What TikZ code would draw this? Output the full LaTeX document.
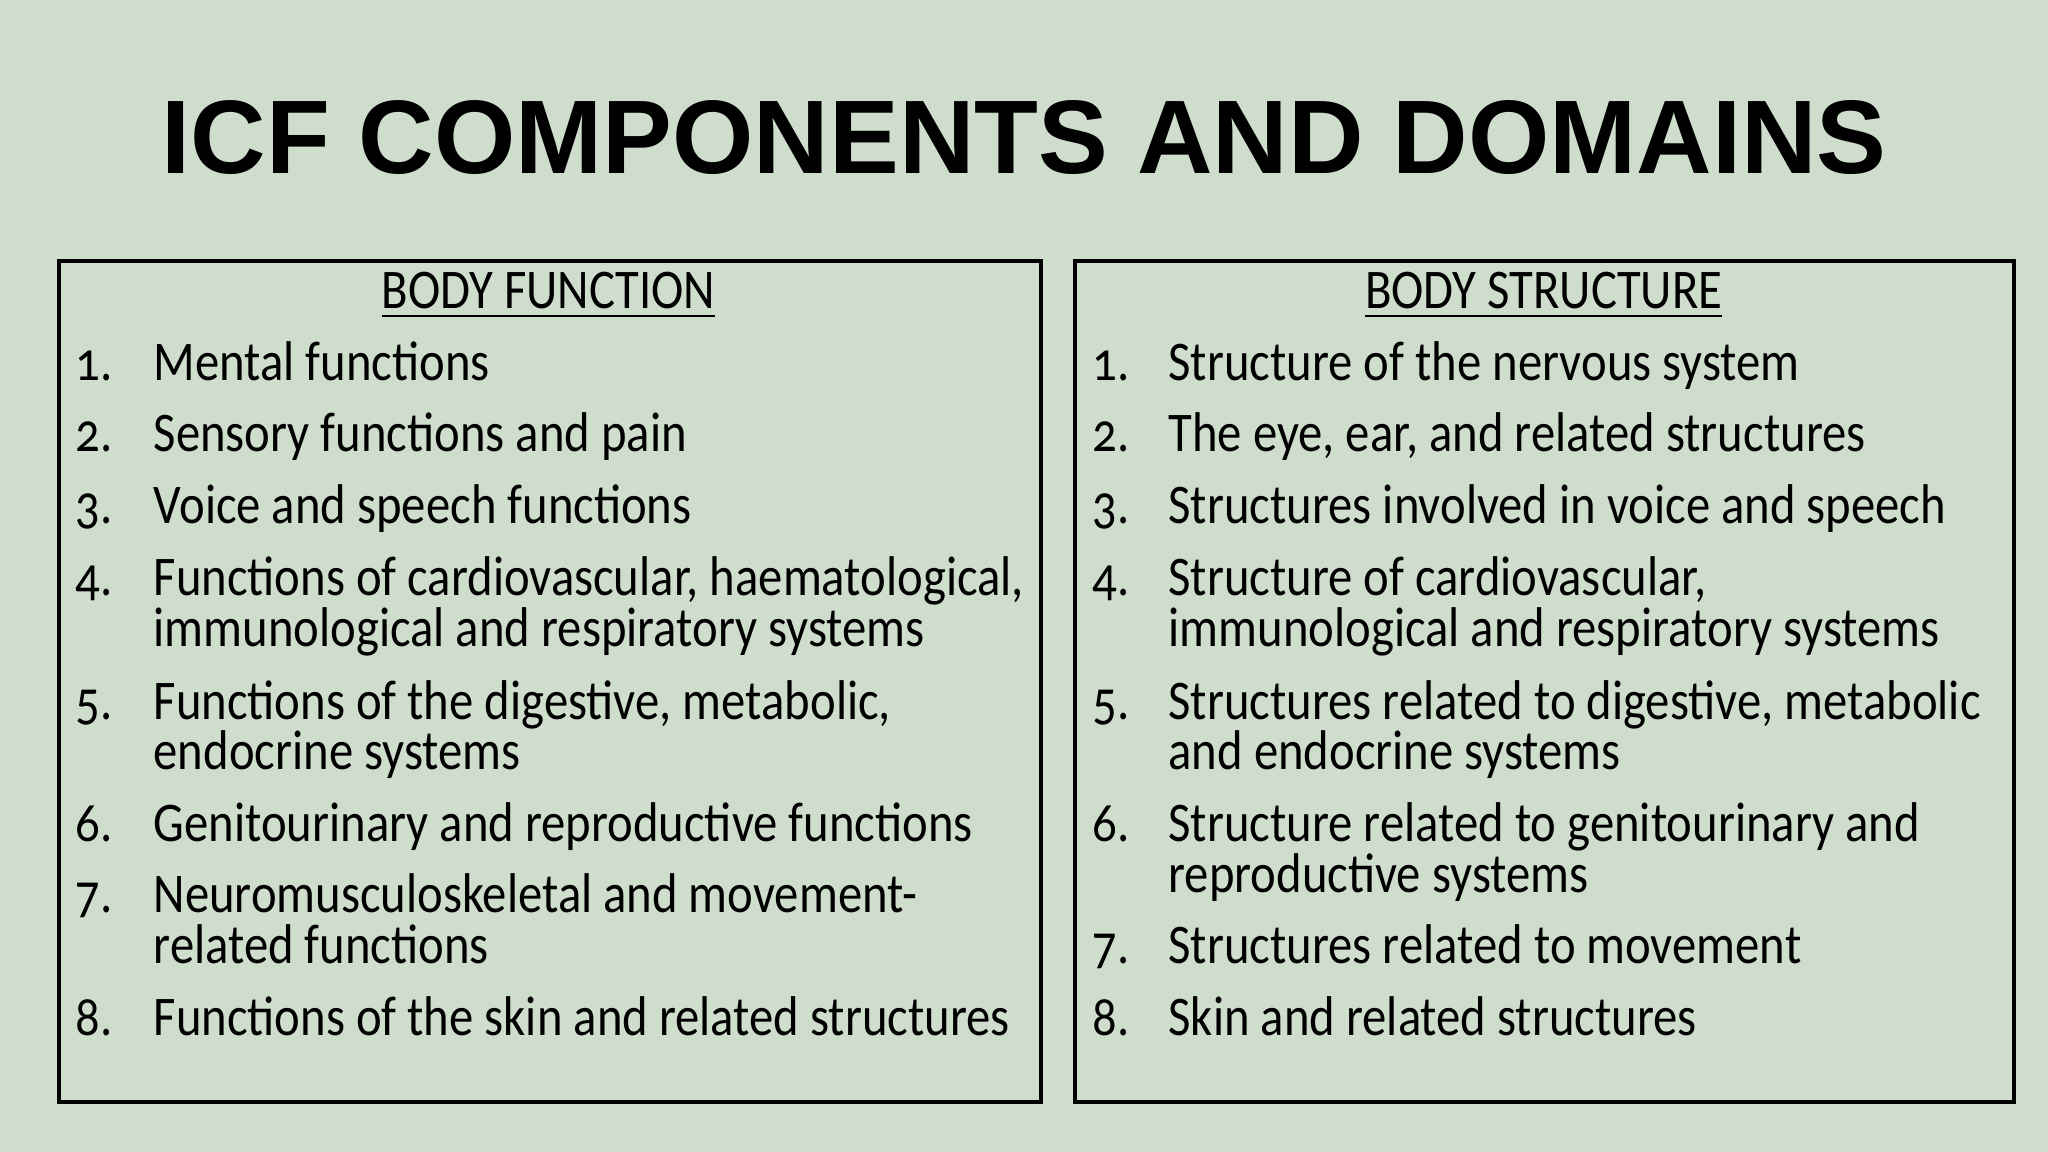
\documentclass[tikz,border=0pt]{standalone}
\usepackage{fontspec}
\setmainfont[Numbers=OldStyle]{Carlito}
\newfontfamily\titlefont{Liberation Sans}
\definecolor{bg}{HTML}{CFDECC}
\newcommand{\tx}[1]{\scalebox{1}[1.15]{#1}}
\begin{document}
\begin{tikzpicture}[x=0.01cm,y=-0.01cm,
  panel/.style={draw=black,line width=0.03cm},
  itm/.style={anchor=base west,inner sep=0pt,font=\fontsize{10.6}{13}\selectfont},
  hdr/.style={anchor=base,inner sep=0pt,font=\fontsize{10.6}{13}\selectfont}]
\fill[bg] (0,0) rectangle (1568,882);
\useasboundingbox (0,0) rectangle (1568,882);
\node (title) at (784,105) {\resizebox{13.2cm}{!}{\titlefont\bfseries\fontsize{22}{26}\selectfont ICF COMPONENTS AND DOMAINS}};
\draw[panel] (45,200) rectangle (797,844);
\draw[panel] (823,200) rectangle (1542,844);
\node[hdr] (h1) at (420,236) {\tx{\underline{BODY FUNCTION}}};
\node[hdr] (h2) at (1182,236) {\tx{\underline{BODY STRUCTURE}}};
% left
\foreach \n/\y in {1/291,2/346,3/401,4/456,5/551,6/644,7/699,8/793}{
  \node[itm] at (57,\y) {\tx{\n.}};}
\node[itm] at (117,291) {\tx{Mental functions}};
\node[itm] at (117,346) {\tx{Sensory functions and pain}};
\node[itm] at (117,401) {\tx{Voice and speech functions}};
\node[itm] at (117,456) {\tx{Functions of cardiovascular, haematological,}};
\node[itm] at (117,495) {\tx{immunological and respiratory systems}};
\node[itm] at (117,551) {\tx{Functions of the digestive, metabolic,}};
\node[itm] at (117,589) {\tx{endocrine systems}};
\node[itm] at (117,644) {\tx{Genitourinary and reproductive functions}};
\node[itm] at (117,699) {\tx{Neuromusculoskeletal and movement-}};
\node[itm] at (117,738) {\tx{related functions}};
\node[itm] at (117,793) {\tx{Functions of the skin and related structures}};
% right
\foreach \n/\y in {1/291,2/346,3/401,4/456,5/551,6/644,7/738,8/793}{
  \node[itm] at (836,\y) {\tx{\n.}};}
\node[itm] at (894,291) {\tx{Structure of the nervous system}};
\node[itm] at (894,346) {\tx{The eye, ear, and related structures}};
\node[itm] at (894,401) {\tx{Structures involved in voice and speech}};
\node[itm] at (894,456) {\tx{Structure of cardiovascular,}};
\node[itm] at (894,495) {\tx{immunological and respiratory systems}};
\node[itm] at (894,551) {\tx{Structures related to digestive, metabolic}};
\node[itm] at (894,589) {\tx{and endocrine systems}};
\node[itm] at (894,644) {\tx{Structure related to genitourinary and}};
\node[itm] at (894,683) {\tx{reproductive systems}};
\node[itm] at (894,738) {\tx{Structures related to movement}};
\node[itm] at (894,793) {\tx{Skin and related structures}};
\end{tikzpicture}
\end{document}
